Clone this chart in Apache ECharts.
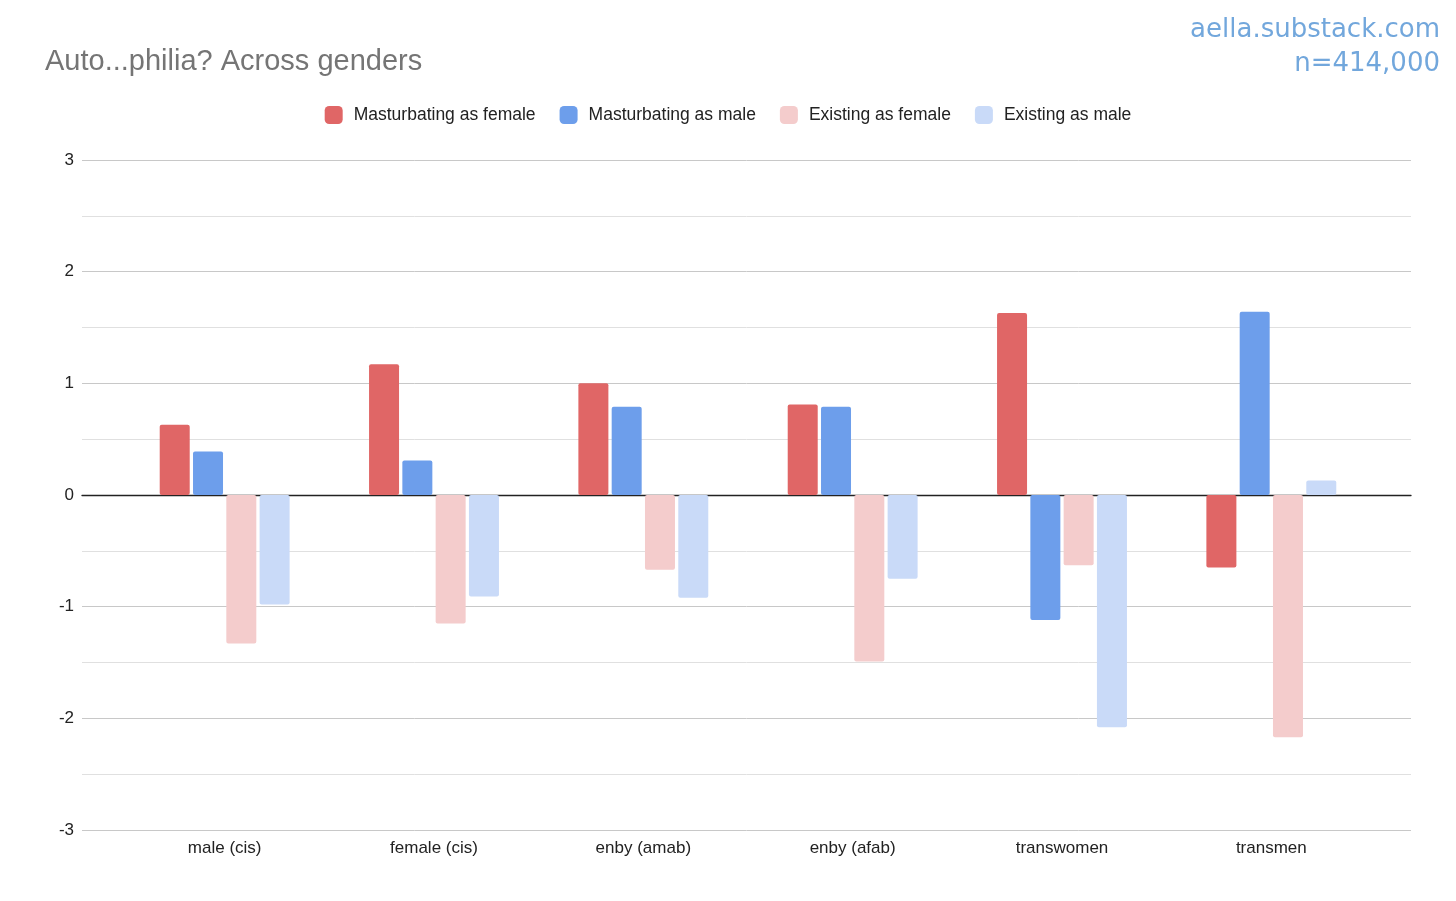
<!DOCTYPE html>
<html>
<head>
<meta charset="utf-8">
<script src="https://cdn.jsdelivr.net/npm/echarts@6/dist/echarts.min.js"></script>
<style>
html,body{margin:0;padding:0;background:#fff;}
#chart{width:1456px;height:901px;}
</style>
</head>
<body>
<div id="chart"></div>
<script>
const categories = ['male (cis)', 'female (cis)', 'enby (amab)', 'enby (afab)', 'transwomen', 'transmen'];
const seriesNames = ['Masturbating as female', 'Masturbating as male', 'Existing as female', 'Existing as male'];
const masturbatingFemale = [0.63, 1.17, 1.00, 0.81, 1.63, -0.65];
const masturbatingMale   = [0.39, 0.31, 0.79, 0.79, -1.12, 1.64];
const existingFemale     = [-1.33, -1.15, -0.67, -1.49, -0.63, -2.17];
const existingMale       = [-0.98, -0.91, -0.92, -0.75, -2.08, 0.13];
const yTicks = [-3, -2, -1, 0, 1, 2, 3];
const colors = ['#e06666', '#6d9eeb', '#f4cccc', '#c9daf8'];

const chart = echarts.init(document.getElementById('chart'));
const gridTop = 160, gridBottom = 71;
const valueData = [masturbatingFemale, masturbatingMale, existingFemale, existingMale];

chart.setOption({
  animation: false,
  backgroundColor: '#fff',
  textStyle: { fontFamily: 'Liberation Sans, Arial, sans-serif' },
  title: {
    text: 'Auto...philia? Across genders',
    left: 40, top: 42,
    textStyle: { fontFamily: 'Liberation Sans, Arial, sans-serif', fontSize: 29, fontWeight: 'normal', color: '#757575' }
  },
  graphic: [
    { type: 'text', right: 16, top: 17, style: { text: 'aella.substack.com', font: '26px "DejaVu Sans", sans-serif', fill: '#72a7dc' } },
    { type: 'text', right: 16, top: 51, style: { text: 'n=414,000', font: '26px "DejaVu Sans", sans-serif', fill: '#72a7dc' } }
  ],
  legend: {
    data: seriesNames,
    top: 101, left: 'center',
    itemWidth: 18, itemHeight: 18, itemGap: 24,
    icon: 'roundRect',
    textStyle: { fontSize: 17.5, color: '#222', padding: [0, 0, 0, 6] }
  },
  grid: [
    { left: 82, right: 45, top: gridTop, bottom: gridBottom },
    { left: 120, right: 80, top: gridTop, bottom: gridBottom }
  ],
  xAxis: [
    { type: 'value', gridIndex: 0, min: 0, max: 1, axisLabel: { show: false }, axisTick: { show: false },
      splitLine: { show: false },
      axisLine: { show: true, onZero: true, lineStyle: { color: '#222', width: 1.3 } } },
    { type: 'category', gridIndex: 1, data: categories,
      axisLine: { show: false }, axisTick: { show: false },
      axisLabel: { fontSize: 17, color: '#222', margin: 10, verticalAlign: 'top' } }
  ],
  yAxis: [
    { type: 'value', gridIndex: 0, min: -3, max: 3, interval: 1,
      axisLine: { show: false }, axisTick: { show: false },
      axisLabel: { fontSize: 17, color: '#222', margin: 8,
        formatter: v => yTicks.includes(v) ? String(v) : '' },
      splitLine: { lineStyle: { color: '#c8c8c8', width: 1 } },
      minorTick: { show: false, splitNumber: 2 },
      minorSplitLine: { show: true, lineStyle: { color: '#e0e0e0', width: 1 } } },
    { type: 'value', gridIndex: 1, min: -3, max: 3, interval: 1, show: false,
      splitLine: { show: false } }
  ],
  series: seriesNames.map((name, i) => ({
    name: name,
    type: 'bar',
    xAxisIndex: 1, yAxisIndex: 1,
    data: valueData[i],
    barWidth: 30,
    barGap: '11%',
    itemStyle: { color: colors[i], borderRadius: 2 }
  }))
});
</script>
</body>
</html>
